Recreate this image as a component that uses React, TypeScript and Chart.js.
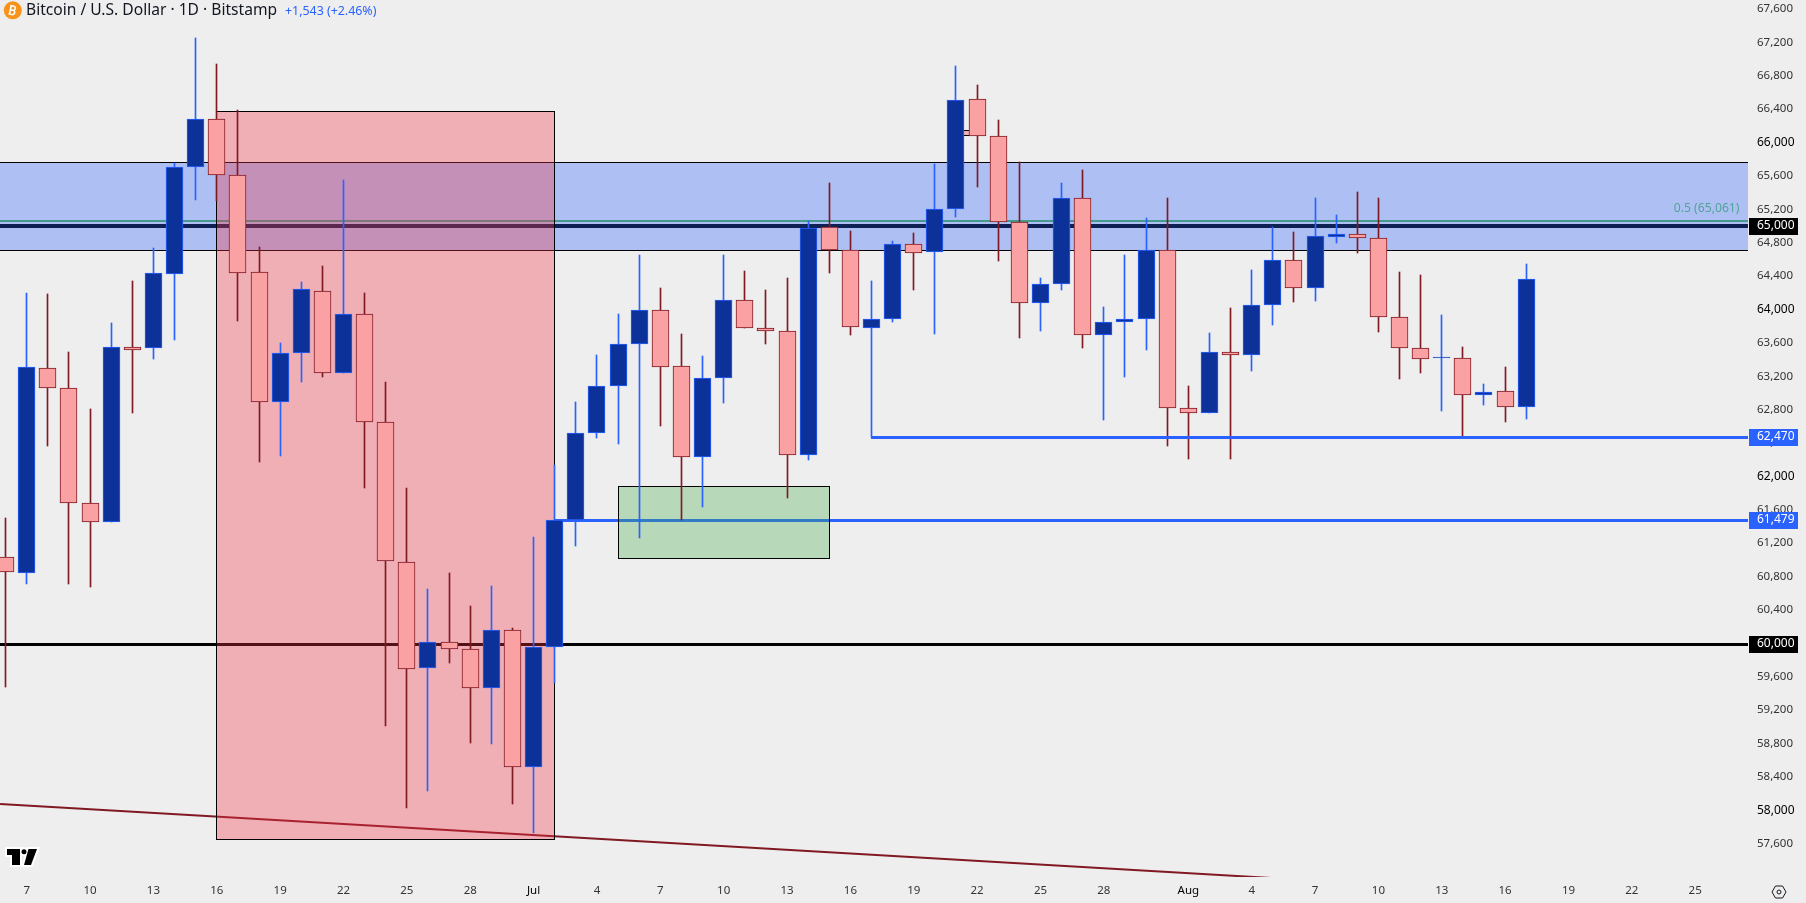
import React, { useEffect, useRef } from "react";
import { Chart, registerables } from "chart.js";

Chart.register(...registerables);

// Day offsets from 7 June (index 0 of the candle arrays is 6 June, day -1)
const firstDay = -1;
const opens = [61031, 60840, 63296, 63056, 61678, 61451, 63547, 63535, 64422, 65703, 66278, 65608, 64446, 62888, 63475, 64218, 63236, 63943, 62649, 60971, 59702, 60013, 59929, 59462, 60157, 58516, 59953, 61478, 62517, 63080, 63583, 63990, 63320, 62230, 63176, 64110, 63775, 63739, 62253, 64993, 64709, 63775, 63883, 64781, 64685, 65200, 66518, 66075, 65045, 64074, 64302, 65332, 63691, 63847, 63883, 64709, 62817, 62757, 63487, 63451, 64050, 64589, 64254, 64877, 64901, 64853, 63907, 63535, 63415, 63415, 62976, 63020, 62828];
const highs = [61502, 64194, 64186, 63491, 62809, 63839, 64342, 64737, 65751, 67253, 66941, 66390, 64749, 63599, 64330, 64522, 65552, 64194, 63132, 61862, 60652, 60844, 60448, 60688, 60185, 61275, 62137, 62892, 63455, 63947, 64653, 64258, 63707, 63443, 64653, 64462, 64234, 64378, 65061, 65516, 64941, 64342, 64821, 64917, 65743, 66917, 66690, 66270, 65763, 64378, 65516, 65672, 64030, 64653, 65097, 65336, 63084, 63719, 64018, 64474, 64989, 64929, 65336, 65132, 65408, 65336, 64450, 64414, 63934, 63551, 63108, 63312, 64545];
const lows = [59482, 60716, 62369, 60716, 60680, 61451, 62765, 63411, 63635, 65312, 65300, 63863, 62177, 62249, 63136, 63196, 63236, 61866, 59015, 58032, 58236, 59769, 58811, 58799, 58080, 57729, 59530, 61171, 62460, 62393, 61263, 62609, 61475, 61634, 62884, 63775, 63591, 61746, 62202, 64442, 63695, 62470, 63855, 64238, 63711, 65112, 65464, 64585, 63663, 63747, 64238, 63543, 62681, 63196, 63519, 62369, 62214, 62757, 62213, 63268, 63815, 64094, 64106, 64797, 64677, 63731, 63168, 63244, 62788, 62470, 62856, 62657, 62693];
const closes = [60852, 63308, 63056, 61678, 61451, 63547, 63523, 64434, 65703, 66278, 65608, 64434, 62888, 63475, 64242, 63236, 63943, 62649, 60983, 59690, 60013, 59929, 59462, 60157, 58516, 59953, 61478, 62517, 63080, 63583, 63990, 63308, 62230, 63176, 64110, 63775, 63739, 62253, 64973, 64709, 63787, 63883, 64781, 64673, 65200, 66506, 66075, 65045, 64074, 64302, 65332, 63691, 63847, 63883, 64709, 62817, 62757, 63487, 63451, 64050, 64589, 64254, 64877, 64901, 64853, 63907, 63535, 63403, 63415, 62972, 63016, 62828, 64362];

const xTickDays = [0, 3, 6, 9, 12, 15, 18, 21, 24, 27, 30, 33, 36, 39, 42, 45, 48, 51, 55, 58, 61, 64, 67, 70, 73, 76, 79];
const xTickLabels = ["7", "10", "13", "16", "19", "22", "25", "28", "Jul", "4", "7", "10", "13", "16", "19", "22", "25", "28", "Aug", "4", "7", "10", "13", "16", "19", "22", "25"];
const monthLabels = ["Jul", "Aug"];

const xDomain = [-1.2642, 81.5];
const yDomain = [57200, 67708];
const yTickValues = [57600, 58000, 58400, 58800, 59200, 59600, 60000, 60400, 60800, 61200, 61600, 62000, 62400, 62800, 63200, 63600, 64000, 64400, 64800, 65200, 65600, 66000, 66400, 66800, 67200, 67600];

const zoneBand = [64709, 65763];
const fibLevel = 65061;
const fibText = "0.5 (65,061)";
const roundLevels = [65000, 60000];
const supportLow = { value: 61479, fromDay: 25 };
const supportHigh = { value: 62470, fromDay: 40 };
const redZone = { days: [9, 25], values: [57653, 66374] };
const tinyZone = { days: [44, 45], values: [66090, 66150] };
const greenZone = { days: [28, 38], values: [61020, 61882] };
const trendDays = [-1.26, 59.2];
const trendValues = [58076, 57184];

const titleText = "Bitcoin / U.S. Dollar · 1D · Bitstamp";
const changeText = "+1,543 (+2.46%)";

const BG = "#eeeeee";
const UP_FILL = "#0c3299";
const UP_LINE = "#2962ff";
const DOWN_FILL = "#faa1a4";
const DOWN_LINE = "#801922";
const FONT = "'Noto Sans'";
const ROUND_WIDTHS = [4, 3];
const ROUND_SHIFTS = [0, 1];

const isUp = (i: number) => closes[i] >= opens[i];
const dayOf = (i: number) => firstDay + i;
const fmt = (v: number) => Math.round(v).toLocaleString("en-US");

function zoneRect(ctx: any, sx: any, sy: any, days: number[], values: number[], fill: string) {
  const l = Math.round(sx.getPixelForValue(days[0]) - 0.5);
  const r = Math.round(sx.getPixelForValue(days[1]) - 0.5);
  const t = Math.round(sy.getPixelForValue(values[1]));
  const b = Math.round(sy.getPixelForValue(values[0]));
  ctx.fillStyle = fill;
  ctx.fillRect(l, t, r - l, b - t);
  ctx.strokeStyle = "#000000";
  ctx.lineWidth = 1;
  ctx.strokeRect(l + 0.5, t + 0.5, r - l, b - t);
}

function hLine(ctx: any, sx: any, sy: any, value: number, fromDay: number | null, width: number, color: string, shift = 0) {
  const y = Math.round(sy.getPixelForValue(value)) + shift;
  const l = fromDay === null ? sx.left : Math.round(sx.getPixelForValue(fromDay) - 0.5);
  ctx.fillStyle = color;
  ctx.fillRect(l, y - Math.floor(width / 2), sx.right - l, width);
}

const snapPlugin = {
  id: "snapCandles",
  afterDatasetsUpdate(chart: any) {
    chart.data.datasets.forEach((_: any, di: number) => {
      const meta = chart.getDatasetMeta(di);
      meta.data.forEach((el: any, i: number) => {
        el.x = Math.round(el.x - 0.5) + 0.5;
        const top = Math.round(Math.min(el.y, el.base));
        let bottom = Math.round(Math.max(el.y, el.base));
        const minSize = di === 0 && opens[i] !== closes[i] ? 3 : 1;
        if (bottom - top < minSize) bottom = top + minSize;
        el.y = top;
        el.base = bottom;
        el.height = bottom - top;
      });
    });
  },
};

const underlayPlugin = {
  id: "underlay",
  beforeDatasetsDraw(chart: any) {
    const { ctx, chartArea: a, scales } = chart;
    const sx = scales.x;
    const sy = scales.y;
    ctx.save();
    ctx.beginPath();
    ctx.rect(a.left, a.top, a.right - a.left, a.bottom - a.top);
    ctx.clip();

    roundLevels.forEach((v, i) => hLine(ctx, sx, sy, v, null, ROUND_WIDTHS[i], "#000000", ROUND_SHIFTS[i]));

    // blue zone with its top and bottom rules
    const bt = Math.round(sy.getPixelForValue(zoneBand[1]));
    const bb = Math.round(sy.getPixelForValue(zoneBand[0]));
    ctx.fillStyle = "rgba(41,98,255,0.33)";
    ctx.fillRect(a.left, bt, a.right - a.left, bb - bt);
    ctx.fillStyle = "#000000";
    ctx.fillRect(a.left, bt, a.right - a.left, 1);
    ctx.fillRect(a.left, bb, a.right - a.left, 1);

    hLine(ctx, sx, sy, fibLevel, null, 2, "#439a8d");

    ctx.font = `12.2px ${FONT}`;
    ctx.fillStyle = "#52a396";
    ctx.textAlign = "right";
    ctx.textBaseline = "middle";
    ctx.fillText(fibText, 1739.5, 209);

    // falling trend line
    ctx.strokeStyle = "#801922";
    ctx.lineWidth = 2;
    ctx.beginPath();
    ctx.moveTo(sx.getPixelForValue(trendDays[0]), sy.getPixelForValue(trendValues[0]));
    ctx.lineTo(sx.getPixelForValue(trendDays[1]), sy.getPixelForValue(trendValues[1]));
    ctx.stroke();

    hLine(ctx, sx, sy, supportLow.value, supportLow.fromDay, 3, UP_LINE);
    zoneRect(ctx, sx, sy, greenZone.days, greenZone.values, "rgba(76,175,80,0.33)");
    zoneRect(ctx, sx, sy, tinyZone.days, tinyZone.values, "rgba(242,54,69,0.34)");
    zoneRect(ctx, sx, sy, redZone.days, redZone.values, "rgba(242,54,69,0.34)");
    ctx.restore();
  },
};

function priceTag(ctx: any, sy: any, value: number, color: string, shift = 0) {
  const y = Math.round(sy.getPixelForValue(value)) + shift;
  ctx.fillStyle = color;
  ctx.fillRect(1749, y - 8, 49, 17);
  ctx.fillStyle = "#ffffff";
  ctx.font = `12px ${FONT}`;
  ctx.textAlign = "left";
  ctx.textBaseline = "middle";
  ctx.fillText(fmt(value), 1757, y);
}

const overlayPlugin = {
  id: "overlay",
  afterDraw(chart: any) {
    const { ctx, scales } = chart;
    const sx = scales.x;
    const sy = scales.y;
    ctx.save();
    hLine(ctx, sx, sy, supportHigh.value, supportHigh.fromDay, 3, UP_LINE);

    priceTag(ctx, sy, roundLevels[0], "#000000", ROUND_SHIFTS[0]);
    priceTag(ctx, sy, roundLevels[1], "#000000", ROUND_SHIFTS[1]);
    priceTag(ctx, sy, supportHigh.value, UP_LINE);
    priceTag(ctx, sy, supportLow.value, UP_LINE);

    // header
    ctx.textAlign = "left";
    ctx.textBaseline = "middle";
    ctx.font = `15.6px ${FONT}`;
    ctx.fillStyle = "#131722";
    ctx.fillText(titleText, 26, 11);
    ctx.font = `12.4px ${FONT}`;
    ctx.fillStyle = UP_LINE;
    ctx.fillText(changeText, 285, 11);

    // coin icon
    ctx.fillStyle = "#f7931a";
    ctx.beginPath();
    ctx.arc(12.8, 10.3, 9, 0, Math.PI * 2);
    ctx.fill();
    ctx.save();
    ctx.translate(12.8, 10.3);
    ctx.rotate(0.2);
    ctx.strokeStyle = "#ffffff";
    ctx.lineWidth = 1.6;
    ctx.beginPath();
    ctx.moveTo(-2.5, -4.5);
    ctx.lineTo(-2.5, 4.5);
    ctx.moveTo(-3.5, -4.2);
    ctx.lineTo(1, -4.2);
    ctx.quadraticCurveTo(3.2, -2.1, 1, 0);
    ctx.lineTo(-2.5, 0);
    ctx.moveTo(1, 0);
    ctx.quadraticCurveTo(3.8, 2.1, 1, 4.2);
    ctx.lineTo(-3.5, 4.2);
    ctx.stroke();
    ctx.restore();

    // corner mark
    const mark = new Path2D();
    mark.moveTo(7, 849);
    mark.lineTo(20, 849);
    mark.lineTo(20, 865);
    mark.lineTo(12, 865);
    mark.lineTo(12, 855);
    mark.lineTo(7, 855);
    mark.closePath();
    mark.moveTo(28.5, 849);
    mark.lineTo(37, 849);
    mark.lineTo(31, 865);
    mark.lineTo(24, 865);
    mark.closePath();
    mark.moveTo(26.5, 851.7);
    mark.arc(24, 851.7, 2.5, 0, Math.PI * 2);
    ctx.strokeStyle = "#ffffff";
    ctx.lineWidth = 4;
    ctx.lineJoin = "miter";
    ctx.stroke(mark);
    ctx.fillStyle = "#000000";
    ctx.fill(mark);

    // settings hexagon
    ctx.strokeStyle = "#131722";
    ctx.lineWidth = 1;
    ctx.beginPath();
    const cx = 1779;
    const cy = 892;
    [[-7, 0], [-3.5, -6], [3.5, -6], [7, 0], [3.5, 6], [-3.5, 6]].forEach(([dx, dy], i) => {
      if (i === 0) ctx.moveTo(cx + dx, cy + dy);
      else ctx.lineTo(cx + dx, cy + dy);
    });
    ctx.closePath();
    ctx.stroke();
    ctx.beginPath();
    ctx.arc(cx, cy, 2, 0, Math.PI * 2);
    ctx.stroke();
    ctx.restore();
  },
};

export default function App() {
  const ref = useRef<HTMLCanvasElement | null>(null);

  useEffect(() => {
    if (!ref.current) return;
    const bodies = opens.map((o, i) => ({ x: dayOf(i), y: [o, closes[i]] }));
    const wicks = opens.map((_, i) => ({ x: dayOf(i), y: [lows[i], highs[i]] }));
    const isMonth = (c: any) => monthLabels.includes(c.tick && c.tick.label);
    const chart = new Chart(ref.current, {
      type: "bar",
      data: {
        datasets: [
          {
            label: "Body",
            data: bodies as any,
            barThickness: 17,
            grouped: false,
            minBarLength: 1,
            borderWidth: 1,
            borderSkipped: false,
            backgroundColor: (c: any) => (isUp(c.dataIndex) ? UP_FILL : DOWN_FILL),
            borderColor: (c: any) => (isUp(c.dataIndex) ? UP_LINE : DOWN_LINE),
          },
          {
            label: "Wick",
            data: wicks as any,
            barThickness: 1,
            grouped: false,
            borderWidth: 0,
            backgroundColor: (c: any) => (isUp(c.dataIndex) ? UP_LINE : DOWN_LINE),
          },
        ],
      },
      options: {
        responsive: false,
        animation: false,
        devicePixelRatio: 1,
        layout: { padding: 0 },
        plugins: { legend: { display: false }, tooltip: { enabled: false }, title: { display: false } },
        scales: {
          x: {
            type: "linear",
            min: xDomain[0],
            max: xDomain[1],
            offset: false,
            grid: { display: false, drawTicks: false },
            border: { display: false },
            afterFit: (s: any) => { s.height = 26; s.paddingLeft = 0; s.paddingRight = 0; },
            afterBuildTicks: (s: any) => { s.ticks = xTickDays.map((value) => ({ value })); },
            ticks: {
              autoSkip: false,
              maxRotation: 0,
              padding: 7,
              color: (c: any) => (isMonth(c) ? "#000000" : "#333333"),
              font: { family: "'Noto Sans'", size: 11.5 },
              callback: (v: any) => xTickLabels[xTickDays.indexOf(Number(v))] ?? "",
            },
          },
          y: {
            type: "linear",
            position: "right",
            min: yDomain[0],
            max: yDomain[1],
            grid: { display: false, drawTicks: false },
            border: { display: false },
            afterFit: (s: any) => { s.width = 58; s.paddingTop = 0; s.paddingBottom = 0; },
            afterBuildTicks: (s: any) => { s.ticks = yTickValues.map((value) => ({ value })); },
            ticks: {
              autoSkip: false,
              padding: 9,
              color: (c: any) => (c.tick && c.tick.value % 2000 === 0 ? "#000000" : "#333333"),
              font: (c: any) => ({
                family: "'Noto Sans'",
                size: c.tick && c.tick.value % 2000 === 0 ? 12 : 11.5,
              }),
              callback: (v: any) => fmt(Number(v)),
            },
          },
        },
      } as any,
      plugins: [snapPlugin, underlayPlugin, overlayPlugin],
    });
    return () => chart.destroy();
  }, []);

  return (
    <div style={{ position: "fixed", left: 0, top: 0, width: 1806, height: 903, background: BG }}>
      <canvas ref={ref} width={1806} height={903} style={{ display: "block", width: 1806, height: 903 }} />
    </div>
  );
}
